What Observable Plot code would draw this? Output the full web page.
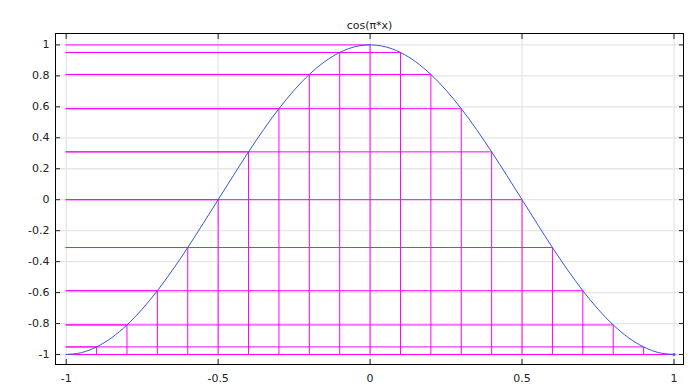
<!DOCTYPE html>
<html>
<head>
<meta charset="utf-8">
<script src="https://cdn.jsdelivr.net/npm/d3@7"></script>
<script src="https://cdn.jsdelivr.net/npm/@observablehq/plot@0.6"></script>
<style>
  html, body { margin: 0; padding: 0; background: #fff; }
  svg { font-family: "DejaVu Sans", sans-serif; }
</style>
</head>
<body>
<div id="chart"></div>
<script>
// Sample positions (step 0.1) and the values read at them
const sampleX = [-1, -0.9, -0.8, -0.7, -0.6, -0.5, -0.4, -0.3, -0.2, -0.1, 0, 0.1, 0.2, 0.3, 0.4, 0.5, 0.6, 0.7, 0.8, 0.9, 1];
const sampleY = [-1, -0.951, -0.809, -0.588, -0.309, 0, 0.309, 0.588, 0.809, 0.951, 1, 0.951, 0.809, 0.588, 0.309, 0, -0.309, -0.588, -0.809, -0.951, -1];
// Curve points (step 0.05)
const curveX = [-1, -0.95, -0.9, -0.85, -0.8, -0.75, -0.7, -0.65, -0.6, -0.55, -0.5, -0.45, -0.4, -0.35, -0.3, -0.25, -0.2, -0.15, -0.1, -0.05, 0, 0.05, 0.1, 0.15, 0.2, 0.25, 0.3, 0.35, 0.4, 0.45, 0.5, 0.55, 0.6, 0.65, 0.7, 0.75, 0.8, 0.85, 0.9, 0.95, 1];
const curveY = [-1, -0.988, -0.951, -0.891, -0.809, -0.707, -0.588, -0.454, -0.309, -0.156, 0, 0.156, 0.309, 0.454, 0.588, 0.707, 0.809, 0.891, 0.951, 0.988, 1, 0.988, 0.951, 0.891, 0.809, 0.707, 0.588, 0.454, 0.309, 0.156, 0, -0.156, -0.309, -0.454, -0.588, -0.707, -0.809, -0.891, -0.951, -0.988, -1];
const xTicks = [-1, -0.5, 0, 0.5, 1];
const yTicks = [-1, -0.8, -0.6, -0.4, -0.2, 0, 0.2, 0.4, 0.6, 0.8, 1];
const titleText = "cos(π*x)";

const samples = sampleX.map((x, i) => ({x, y: sampleY[i]}));
const curve = curveX.map((x, i) => ({x, y: curveY[i]}));
const fmt = d => String(d);

const chart = Plot.plot({
  width: 690,
  height: 388,
  marginLeft: 55,
  marginRight: 7,
  marginTop: 33,
  marginBottom: 24,
  style: {fontFamily: "DejaVu Sans, sans-serif", fontSize: "11px", color: "#222", background: "#fff"},
  x: {domain: [-1.0352, 1.0313], ticks: xTicks, tickFormat: fmt},
  y: {domain: [-1.0646, 1.0736], ticks: yTicks, tickFormat: fmt},
  marks: [
    Plot.gridX(xTicks, {stroke: "#e6e6e6", strokeOpacity: 1, strokeWidth: 1.3}),
    Plot.gridY(yTicks, {stroke: "#e6e6e6", strokeOpacity: 1, strokeWidth: 1.3}),
    Plot.ruleX(samples, {x: "x", y1: -1, y2: "y", stroke: "#ff00ff", strokeWidth: 1}),
    Plot.ruleY(samples, {y: "y", x1: -1, x2: "x", stroke: "#ff00ff", strokeWidth: 1}),
    Plot.dot(samples.filter(d => d.x === 1), {x: "x", y: "y", r: 1.5, fill: "#ff00ff", stroke: null}),
    Plot.line(curve, {x: "x", y: "y", stroke: "#3355dd", strokeWidth: 1, curve: "monotone-x"}),
    Plot.frame({stroke: "#000", strokeWidth: 1}),
    Plot.axisX(xTicks, {anchor: "bottom", tickSize: 0, tickPadding: 10, tickFormat: fmt, label: null, fill: "#222"}),
    Plot.axisX(xTicks, {anchor: "bottom", tickSize: -5, text: null, label: null}),
    Plot.axisX(xTicks, {anchor: "top", tickSize: -5, text: null, label: null}),
    Plot.axisY(yTicks, {anchor: "left", tickSize: 0, tickPadding: 6, tickFormat: fmt, label: null, fill: "#222"}),
    Plot.axisY(yTicks, {anchor: "left", tickSize: -5, text: null, label: null}),
    Plot.axisY(yTicks, {anchor: "right", tickSize: -5, text: null, label: null}),
    Plot.text([titleText], {text: d => d, frameAnchor: "top", dy: -12, fontSize: 11, fill: "#222"})
  ]
});
document.getElementById("chart").appendChild(chart);
</script>
</body>
</html>
